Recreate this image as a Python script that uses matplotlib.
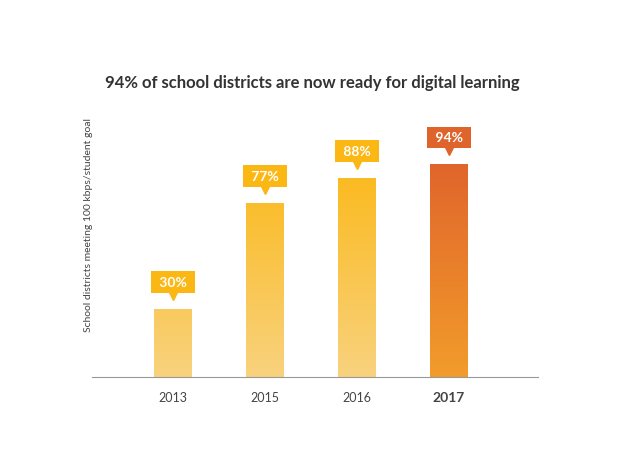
import matplotlib
matplotlib.use("Agg")
import matplotlib.pyplot as plt
import numpy as np
from matplotlib.colors import LinearSegmentedColormap
from matplotlib.transforms import offset_copy

years = ["2013", "2015", "2016", "2017"]
values = [0.30, 0.77, 0.88, 0.94]
labels = ["30%", "77%", "88%", "94%"]

fig = plt.figure(figsize=(6.25, 4.6), dpi=100)
ax = fig.add_axes([0.147, 0.178, 0.714, 0.492])
ax.set_xlim(-0.88, 3.97)
ax.set_ylim(0, 1)

yellow = LinearSegmentedColormap.from_list("y", ["#f8d27e", "#fbb714"])
orange = LinearSegmentedColormap.from_list("o", ["#f29c2a", "#df622c"])
grad = np.linspace(0, 1, 256).reshape(-1, 1)
w = 0.41
for i, (v, lab) in enumerate(zip(values, labels)):
    cmap = orange if i == 3 else yellow
    bar = ax.bar(i, v, width=w, color="none", edgecolor="none")[0]
    im = ax.imshow(grad, cmap=cmap, origin="lower", aspect="auto",
                   extent=[i - w / 2, i + w / 2, 0, 1], zorder=2)
    im.set_clip_path(bar)
    box = "#df642c" if i == 3 else "#fbb714"
    tr = offset_copy(ax.transData, fig=fig, x=0, y=14, units="dots")
    ax.plot([i], [v], marker="v", markersize=7, color=box, transform=tr, clip_on=False)
    ax.annotate(" " + lab + " ", (i, v), xytext=(0, 17 + 10), textcoords="offset pixels",
                ha="center", va="center", color="white", fontsize=10, fontweight="bold",
                fontfamily="Lato",
                bbox=dict(boxstyle="square,pad=0.35", fc=box, ec="none"))

ax.set_xticks(range(len(years)))
ax.set_xticklabels(years, fontsize=9, color="#444", fontfamily="Lato")
ax.get_xticklabels()[3].set_fontweight("bold")
ax.get_xticklabels()[3].set_fontsize(10)
ax.tick_params(axis="x", length=0, pad=10)
ax.set_yticks([])
for s in ["top", "right", "left"]:
    ax.spines[s].set_visible(False)
ax.spines["bottom"].set_color("#999")
ax.set_xlim(-0.88, 3.97)
ax.set_ylim(0, 1)

fig.text(0.141, 0.51, "School districts meeting 100 kbps/student goal", rotation=90,
         fontsize=7.5, color="#444", ha="center", va="center", fontfamily="Lato")
fig.text(0.5, 0.82, "94% of school districts are now ready for digital learning",
         fontsize=12, fontweight="bold", color="#333", ha="center", va="center",
         fontfamily="Lato")
fig.savefig("out.png", dpi=100)
